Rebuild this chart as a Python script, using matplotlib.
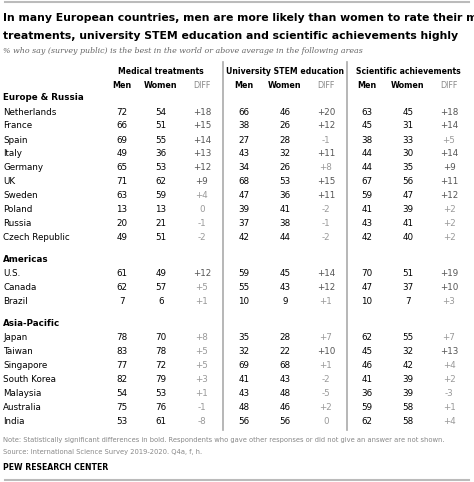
import matplotlib.pyplot as plt

regions = [
    ("Europe & Russia", ["Netherlands", "France", "Spain", "Italy", "Germany", "UK", "Sweden",
                         "Poland", "Russia", "Czech Republic"]),
    ("Americas", ["U.S.", "Canada", "Brazil"]),
    ("Asia-Pacific", ["Japan", "Taiwan", "Singapore", "South Korea", "Malaysia", "Australia", "India"]),
]

# men, women per area, in row order
med_men = [72, 66, 69, 49, 65, 71, 63, 13, 20, 49, 61, 62, 7, 78, 83, 77, 82, 54, 75, 53]
med_women = [54, 51, 55, 36, 53, 62, 59, 13, 21, 51, 49, 57, 6, 70, 78, 72, 79, 53, 76, 61]
stem_men = [66, 38, 27, 43, 34, 68, 47, 39, 37, 42, 59, 55, 10, 35, 32, 69, 41, 43, 48, 56]
stem_women = [46, 26, 28, 32, 26, 53, 36, 41, 38, 44, 45, 43, 9, 28, 22, 68, 43, 48, 46, 56]
sci_men = [63, 45, 38, 44, 44, 67, 59, 41, 43, 42, 70, 47, 10, 62, 45, 46, 41, 36, 59, 62]
sci_women = [45, 31, 33, 30, 35, 56, 47, 39, 41, 40, 51, 37, 7, 55, 32, 42, 39, 39, 58, 58]

areas = ["Medical treatments", "University STEM education", "Scientific achievements"]
data = [(med_men, med_women), (stem_men, stem_women), (sci_men, sci_women)]

W, H = 474, 482
fig = plt.figure(figsize=(W / 100, H / 100), dpi=100)
plt.rcParams['font.family'] = ['DejaVu Sans']


def t(x, y, s, **kw):
    kw.setdefault('fontsize', 6.3)
    kw.setdefault('va', 'center')
    fig.text(x / W, 1 - y / H, s, **kw)


def hline(y, color='#bbbbbb', lw=1.5):
    fig.add_artist(plt.Line2D([0.01, 0.99], [1 - y / H] * 2, color=color, lw=lw))


hline(2)
hline(480)
t(3, 18, "In many European countries, men are more likely than women to rate their medical",
  fontsize=7.8, fontweight='bold')
t(3, 36, "treatments, university STEM education and scientific achievements highly",
  fontsize=7.8, fontweight='bold')
t(3, 51, "% who say (survey public) is the best in the world or above average in the following areas",
  fontsize=5.7, style='italic', color='#666666', family='serif')

col_x = [(122, 161, 202), (244, 285, 326), (367, 408, 449)]
for (xm, xw, xd), name in zip(col_x, areas):
    t(xw, 71, name, ha='center', fontweight='bold', fontsize=5.6)
    t(xm, 85, "Men", ha='center', fontweight='bold', fontsize=5.8)
    t(xw, 85, "Women", ha='center', fontweight='bold', fontsize=5.8)
    t(xd, 85, "DIFF", ha='center', color='#888888', fontsize=5.8)
for xs in (223, 347):
    fig.add_artist(plt.Line2D([xs / W] * 2, [1 - 62 / H, 1 - 430 / H], color='#aaaaaa', lw=1.2))

y = 98
i = 0
for region, countries in regions:
    t(3, y, region, fontweight='bold', fontsize=6.3)
    y += 14
    for c in countries:
        t(3, y, c)
        for (xm, xw, xd), (men, women) in zip(col_x, data):
            d = men[i] - women[i]
            ds = f"+{d}" if d > 0 else str(d)
            t(xm, y, str(men[i]), ha='center')
            t(xw, y, str(women[i]), ha='center')
            sig = abs(d) >= 9
            t(xd, y, ds, ha='center', color='#555555' if sig else '#999999')
        i += 1
        y += 14
    y += 8

t(3, 440, "Note: Statistically significant differences in bold. Respondents who gave other responses or did not give an answer are not shown.",
  fontsize=4.9, color='#888888')
t(3, 452, "Source: International Science Survey 2019-2020. Q4a, f, h.", fontsize=4.9, color='#888888')
t(3, 468, "PEW RESEARCH CENTER", fontsize=5.6, fontweight='bold')

fig.savefig("out.png", dpi=100)
